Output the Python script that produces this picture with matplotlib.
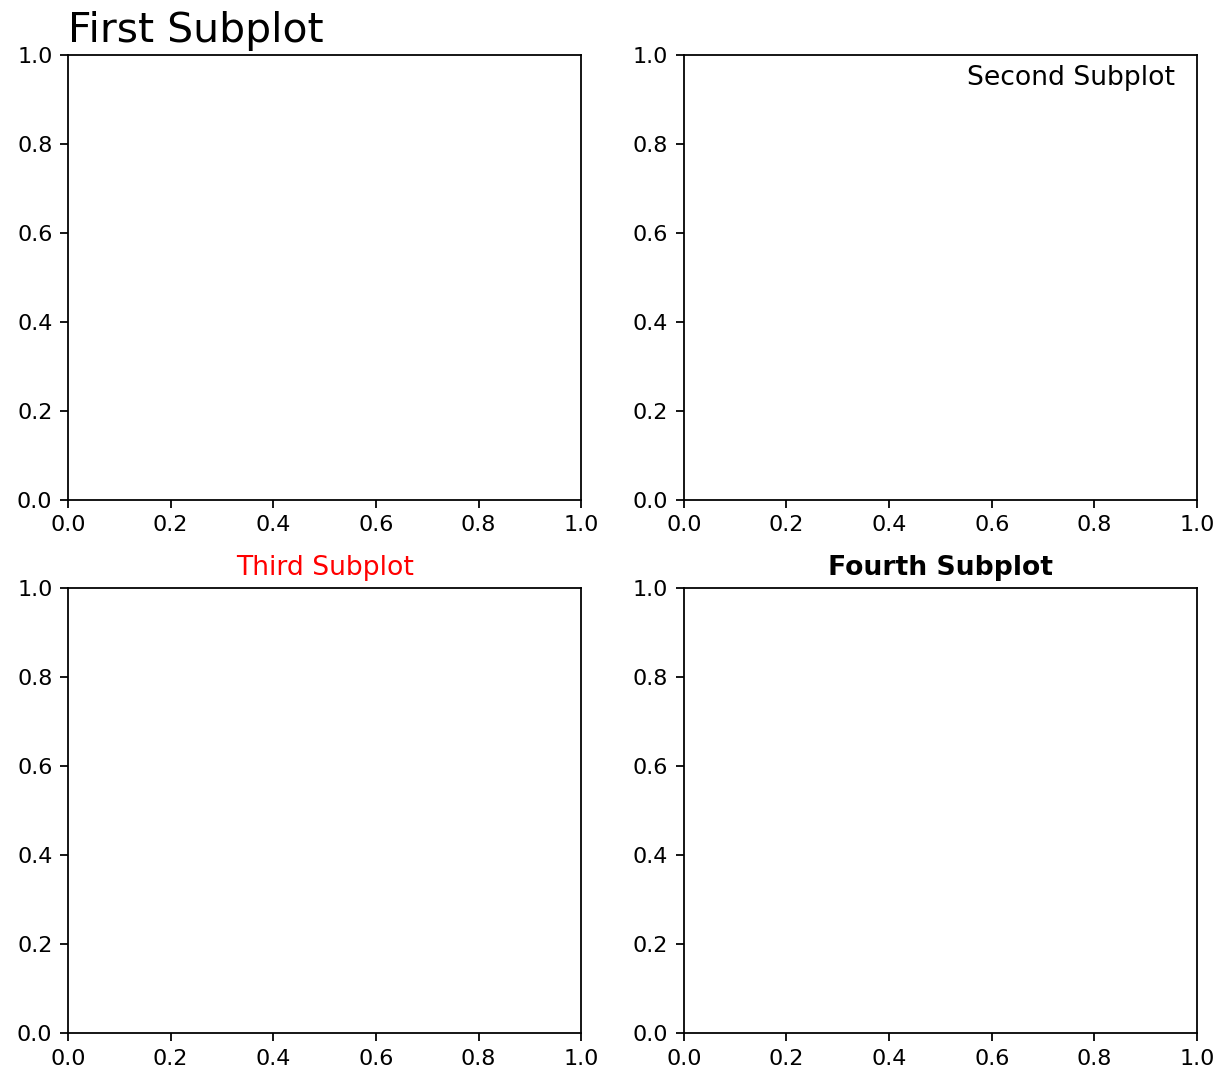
import matplotlib.pyplot as plt

titles = ["First Subplot", "Second Subplot", "Third Subplot", "Fourth Subplot"]
xlims = [0.0, 1.0]
ylims = [0.0, 1.0]

fig, axes = plt.subplots(2, 2, figsize=(1230 / 160, 1088 / 160), dpi=160)
fig.subplots_adjust(left=0.0553, right=0.9732, top=0.9494, bottom=0.0506,
                    wspace=0.2, hspace=0.2)

for ax in axes.flat:
    ax.set_xlim(xlims)
    ax.set_ylim(ylims)

# first: big title on the left
axes[0, 0].set_title(titles[0], loc="left", fontsize=18.4)
# second: title put inside the box, upper right
axes[0, 1].text(0.957, 0.933, titles[1], ha="right", va="baseline",
                fontsize=12, transform=axes[0, 1].transAxes)
# third: red title
axes[1, 0].set_title(titles[2], color="red")
# fourth: bold title
axes[1, 1].set_title(titles[3], fontweight="bold")

fig.savefig("out.png", dpi=160)
